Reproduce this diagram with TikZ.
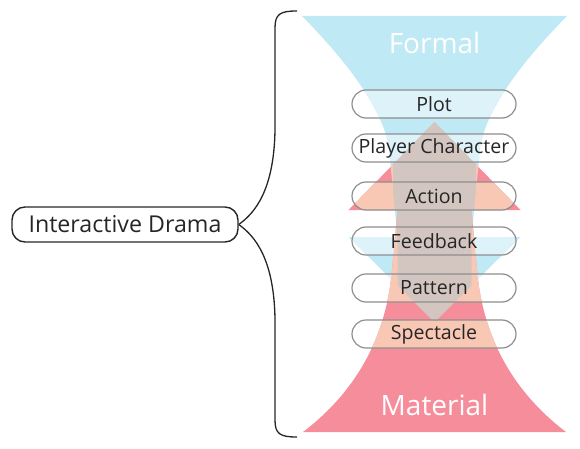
\documentclass[tikz,border=0pt]{standalone}
\usepackage{fontspec}
\setmainfont{Open Sans}
\usetikzlibrary{shapes.misc}

\definecolor{formalblue}{HTML}{BFE9F4}
\definecolor{formallight}{HTML}{DDF2F9}
\definecolor{materialpink}{HTML}{F68D9B}
\definecolor{materiallight}{HTML}{F9C8B5}
\definecolor{overlapgrey}{HTML}{D3C6C0}
\definecolor{pillgrey}{HTML}{8E8E8E}
\definecolor{inkgrey}{HTML}{262626}

% outlines of the two causes (pixel units, y downwards)
\newcommand{\formalshape}{(302,16) -- (567,16) .. controls (514,70) and (479,120) .. (479,160)
  -- (471.5,237) -- (520.5,237) -- (434.5,322) -- (348.5,237) -- (397.5,237)
  -- (390,160) .. controls (390,120) and (355,70) .. (302,16) -- cycle}
\newcommand{\materialshape}{(303,432) -- (566,432) .. controls (524,400) and (484,350) .. (477,270)
  -- (471.5,210) -- (520.5,210) -- (434.5,122) -- (348.5,210) -- (397.5,210)
  -- (392,270) .. controls (385,350) and (345,400) .. (303,432) -- cycle}

\begin{document}
\begin{tikzpicture}[x=1pt, y=-1pt,
  pill/.style={rounded rectangle, draw=pillgrey, line width=1.2pt, minimum width=164pt,
    minimum height=28pt, inner sep=0pt, text=inkgrey, font=\fontsize{19.6}{22}\selectfont},
  rootbox/.style={rounded corners=13pt, draw=inkgrey, line width=1.4pt, minimum width=226pt,
    minimum height=35pt, inner sep=0pt, text=inkgrey, font=\fontsize{23.2}{26}\selectfont},
  causelabel/.style={text=white, font=\fontsize{28}{32}\selectfont},
  brace/.style={draw=inkgrey, line width=1.3pt}]
  \useasboundingbox (0,0) rectangle (580,449);
  % Formal cause from the top, material cause from the bottom
  \fill[formalblue] \formalshape;
  \fill[materialpink] \materialshape;
  \begin{scope}
    \clip \formalshape;
    \fill[materiallight] \materialshape;
  \end{scope}
  % lighter colours behind the layers
  \begin{scope}
    \clip[rounded corners=14pt] \foreach \y in {104,148,196,241,288,334} {
      (352,\y-14) rectangle (516,\y+14) };
    \fill[formallight] \formalshape;
    \fill[materiallight] \materialshape;
  \end{scope}
  % Overlap of both arrows
  \begin{scope}
    \clip \formalshape;
    \clip (393,0) -- (476,0) -- (476,237) -- (471.5,237) -- (471.5,449)
      -- (397.5,449) -- (397.5,237) -- (393,237) -- cycle;
    \fill[overlapgrey] \materialshape;
  \end{scope}
  \node[causelabel] (formal) at (434.5,43) {Formal};
  \node[causelabel] (material) at (434.5,405) {Material};
  % Layers
  \foreach \y/\name/\txt in {104/plot/Plot, 148/player/Player Character, 196/action/Action,
    241/feedback/Feedback, 288/pattern/Pattern, 334/spectacle/Spectacle} {
    \node[pill] (\name) at (434,\y) {\txt};
  }
  % Root and brace
  \node[rootbox] (drama) at (125,224.5) {Interactive Drama};
  \coordinate (braceTop) at (297,11);
  \coordinate (braceBot) at (297,437);
  \draw[brace] (drama.east) .. controls (255,213) and (274,190) .. (275,130)
    -- (275,28) .. controls (275,14) and (280,11) .. (braceTop);
  \draw[brace] (drama.east) .. controls (255,236) and (274,259) .. (275,319)
    -- (275,420) .. controls (275,434) and (280,437) .. (braceBot);
\end{tikzpicture}
\end{document}
